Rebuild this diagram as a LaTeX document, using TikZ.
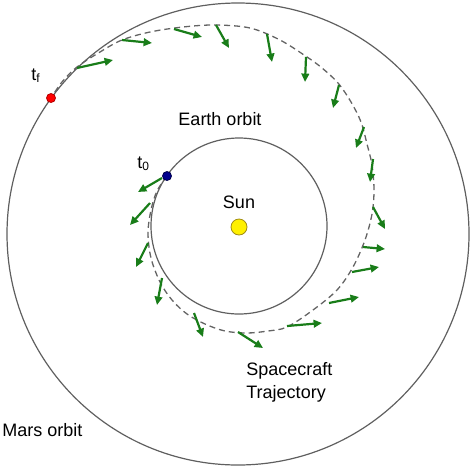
\documentclass[tikz,border=0pt]{standalone}
\usepackage{fontspec}
\setmainfont{Liberation Sans}
\usetikzlibrary{arrows.meta}
\definecolor{orbitgray}{RGB}{95,95,95}
\definecolor{trajgray}{RGB}{100,100,100}
\definecolor{vecgreen}{RGB}{25,125,25}
\definecolor{sunyellow}{RGB}{255,240,0}
\definecolor{sunedge}{RGB}{160,140,20}
\tikzset{
  orbit/.style={draw=orbitgray, line width=0.6pt},
  traj/.style={draw=trajgray, line width=0.65pt, dash pattern=on 3pt off 2pt},
  vec/.style={draw=vecgreen, line width=1.1pt, -{Triangle[length=4.2pt,width=3.8pt]}},
  lbl/.style={inner sep=0pt, font=\fontsize{9}{11}\selectfont},
  dot/.style={circle, inner sep=0pt, minimum size=4.5pt, line width=0.4pt}
}
\begin{document}
\begin{tikzpicture}[x=0.5pt,y=-0.5pt]
\useasboundingbox (0,0) rectangle (474,471);
% orbits
\draw[orbit] (238,234) circle[radius=231];
\draw[orbit] (239,226) circle[radius=88];
% trajectory
\draw[traj] plot[smooth, tension=0.55] coordinates {
 (167,176) (157,191) (151,210) (148,233) (151,258) (160,282) (172,300)
 (187,314) (205,324) (225,331) (247,333) (268,331) (287,327) (313,310)
 (337,290) (353,267) (365,240) (372,214) (374,190) (372,165) (367,144)
 (361,122) (351,102) (338,83) (322,68) (307,57) (280,40) (250,28)
 (215,25) (183,27) (150,32) (122,40) (100,52) (77,67) (62,82) (51,98)};
% thrust vectors
\foreach \a/\b/\c/\d in {
 77/68/113/60, 122/40/152/43, 174/29/202/37, 216/25/229/48,
 267/34/272/62, 306/57/305/82, 339/85/333/108, 364/127/356/148,
 373/159/370/182, 373/207/385/229, 363/247/385/249, 352/272/379/267,
 329/303/359/297, 287/326/322/323, 238/332/263/348, 194/313/203/337,
 162/278/157/305, 148/243/136/267, 150/203/130/225, 162/178/138/192}
  \draw[vec] (\a,\b) -- (\c,\d);
% sun and points
\node[dot, minimum size=8pt, fill=sunyellow, draw=sunedge] (sun) at (239,227) {};
\node[dot, fill=red, draw=red!70!black] (tf) at (51,98) {};
\node[dot, fill=blue!55!black, draw=blue!30!black] (t0) at (167,176) {};
% labels
\node[lbl, anchor=base] (earth) at (220,125) {Earth orbit};
\node[lbl, anchor=base] (sunlbl) at (239,208) {Sun};
\node[lbl, anchor=base west] (sc1) at (246,375) {Spacecraft};
\node[lbl, anchor=base west] (sc2) at (246,398) {Trajectory};
\node[lbl, anchor=base west] (mars) at (2,436) {Mars orbit};
\node[lbl, anchor=base west] (tflbl) at (31,80) {t\textsubscript{f}};
\node[lbl, anchor=base west] (t0lbl) at (137,168) {t\textsubscript{0}};
\end{tikzpicture}
\end{document}
